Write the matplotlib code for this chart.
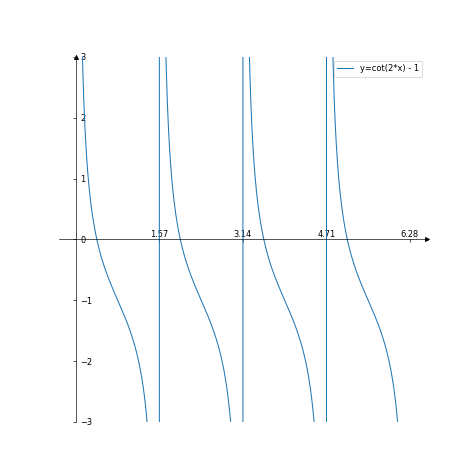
import numpy as np
import matplotlib
matplotlib.use("Agg")
import matplotlib.pyplot as plt

# Data: the plotted function y = cot(2x) - 1 sampled over [0, 2*pi]
x_start = 0.0
x_end = 2 * np.pi
n_samples = 2000
y_limits = [-3, 3]
x_tick_values = [np.pi / 2, np.pi, 3 * np.pi / 2, 2 * np.pi]
x_tick_labels = ["1.57", "3.14", "4.71", "6.28"]
y_tick_values = [-3, -2, -1, 0, 1, 2, 3]
legend_label = "y=cot(2*x) - 1"

x = np.linspace(x_start, x_end, n_samples)
with np.errstate(divide="ignore", invalid="ignore"):
    y = 1.0 / np.tan(2 * x) - 1
y[~np.isfinite(y)] = np.nan

DPI = 59.25
fig = plt.figure(figsize=(8, 8), dpi=DPI)
ax = fig.add_subplot(111)
ax.plot(x, y, label=legend_label, linewidth=1.25)
ax.set_ylim(*y_limits)

for side in ["left", "bottom", "right", "top"]:
    ax.spines[side].set_position("zero")
ax.spines["right"].set_visible(False)
ax.spines["top"].set_visible(False)

ax.set_xticks(x_tick_values)
ax.set_xticklabels(x_tick_labels)
ax.set_yticks(y_tick_values)
ax.tick_params(axis="x", bottom=True, top=False, labelbottom=False, labeltop=True, pad=-3.0)
ax.tick_params(axis="y", left=True, right=False, labelleft=False, labelright=True, pad=2.0)

ax.plot(1, 0, ">k", transform=ax.get_yaxis_transform(), clip_on=False, markersize=5)
ax.plot(0, 1, "^k", transform=ax.get_xaxis_transform(), clip_on=False, markersize=5)

ax.legend(loc="upper right")
fig.savefig("out.png", dpi=DPI)
